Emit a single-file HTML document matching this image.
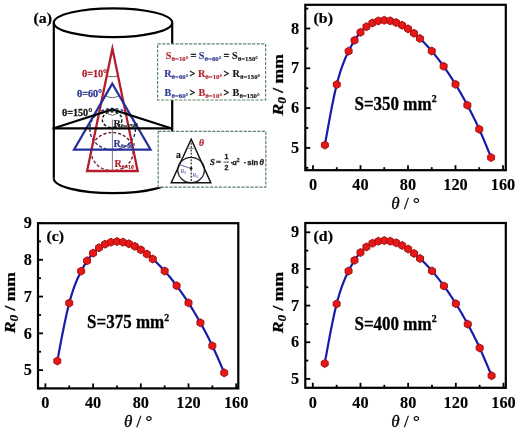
<!DOCTYPE html>
<html><head><meta charset="utf-8"><style>
html,body{margin:0;padding:0;background:#fff;}
svg{display:block;}
text{font-family:"Liberation Serif", "Times New Roman", serif;}
.tk,.pl,.sl,.yt{font-weight:bold;fill:#000;stroke:#000;stroke-width:0.25px;}
.tk{stroke-width:0.12px;}
.tk{font-size:16.3px;}
.pl{font-size:15.8px;}
.sl{font-size:17px;}
.yt{font-size:15.3px;}
.xt{font-size:17px;fill:#000;stroke:#000;stroke-width:0.3px;}
.al{font-size:10.1px;font-weight:bold;stroke-width:0.3px;}
.rl{font-size:10px;font-weight:bold;stroke-width:0.2px;}
.rs{font-size:5.8px;}
.bx{font-size:10.2px;font-weight:bold;stroke-width:0.15px;}
.fa{font-size:9.8px;font-weight:bold;stroke-width:0.2px;}
.ft{font-size:9.6px;font-weight:bold;font-style:italic;stroke-width:0.2px;}
.fr{font-size:6px;font-style:italic;fill:#4a5a9a;}
.fm{font-size:8.6px;font-weight:bold;stroke-width:0.3px;}
</style></head><body>
<svg width="520" height="433" viewBox="0 0 520 433">
<rect width="520" height="433" fill="#fff"/>
<ellipse cx="113" cy="22.7" rx="59.2" ry="14.4" fill="none" stroke="#000" stroke-width="2.2"/>
<line x1="53.8" y1="22.7" x2="53.8" y2="178.5" stroke="#000" stroke-width="2.2"/>
<line x1="172.2" y1="22.7" x2="172.2" y2="178.5" stroke="#000" stroke-width="2.2"/>
<path d="M53.8,178.5 A59.2,14.6 0 0 0 172.2,178.5" fill="none" stroke="#000" stroke-width="2.2"/>
<ellipse cx="112.6" cy="129.1" rx="22.8" ry="20.7" fill="none" stroke="#1e2a70" stroke-width="1.4" stroke-dasharray="3,2"/>
<ellipse cx="112.2" cy="151.6" rx="21" ry="19.1" fill="none" stroke="#6a1e26" stroke-width="1.4" stroke-dasharray="3,2"/>
<ellipse cx="112.1" cy="119.7" rx="9.8" ry="7.9" fill="none" stroke="#111" stroke-width="1.4" stroke-dasharray="3,2"/>
<line x1="112.4" y1="119.5" x2="112.4" y2="171" stroke="#6a6a90" stroke-width="0.9"/>
<path d="M118.26,76.18 A28.2,28.2 0 0 1 106.54,76.18" fill="none" stroke="#555" stroke-width="0.9"/>
<path d="M119.25,95.64 A13.9,13.9 0 0 1 105.35,95.64" fill="none" stroke="#555" stroke-width="0.9"/>
<path d="M118.04,111.35 A6,6 0 0 1 106.76,111.35" fill="none" stroke="#555" stroke-width="0.9"/>
<polygon points="112.4,48.6 87.1,171 137.7,171" fill="none" stroke="#b81c2c" stroke-width="2.3" stroke-miterlimit="12"/>
<polygon points="112.3,83.6 74.0,149.7 150.6,149.7" fill="none" stroke="#26309a" stroke-width="2.2" stroke-miterlimit="12"/>
<polyline points="53.8,128.2 112.3,109.4 171,128.2" fill="none" stroke="#000" stroke-width="2.2"/>
<line x1="52.5" y1="128.3" x2="172.2" y2="128.3" stroke="#000" stroke-width="2.2"/>
<text x="82" y="76.5" class="al" fill="#b02530" stroke="#b02530">θ=10°</text>
<text x="77" y="96.5" class="al" fill="#2c3990" stroke="#2c3990">θ=60°</text>
<text x="62" y="115.6" class="al" fill="#151515" stroke="#151515">θ=150°</text>
<text x="113.6" y="126.5" class="rl" fill="#222" stroke="#222">R<tspan class="rs" dy="1.5">θ=150°</tspan></text>
<text x="113.6" y="146.5" class="rl" fill="#2c3990" stroke="#2c3990">R<tspan class="rs" dy="1.5">θ=60°</tspan></text>
<text x="114.5" y="167" class="rl" fill="#b02530" stroke="#b02530">R<tspan class="rs" dy="1.5">θ=10</tspan></text>
<rect x="157.6" y="43.9" width="108" height="56.1" fill="#fff" stroke="#5a8668" stroke-width="1.2" stroke-dasharray="3.2,1.3"/>
<text class="bx"><tspan x="165.8" y="59.4" fill="#b02530" stroke="#b02530">S</tspan><tspan fill="#b02530" stroke="#b02530" font-size="6.8" dy="1.9">θ=10°</tspan><tspan x="190.4" y="59.4" fill="#111" stroke="#111" stroke-width="0.35">=</tspan><tspan x="198.8" y="59.4" fill="#2c3990" stroke="#2c3990">S</tspan><tspan fill="#2c3990" stroke="#2c3990" font-size="6.8" dy="1.9">θ=60°</tspan><tspan x="223.5" y="59.4" fill="#111" stroke="#111" stroke-width="0.35">=</tspan><tspan x="232" y="59.4" fill="#151515" stroke="#151515">S</tspan><tspan fill="#151515" stroke="#151515" font-size="6.8" dy="1.9">θ=150°</tspan></text>
<text class="bx"><tspan x="164.2" y="77.2" fill="#2c3990" stroke="#2c3990">R</tspan><tspan fill="#2c3990" stroke="#2c3990" font-size="6.8" dy="1.9">θ=60°</tspan><tspan x="189.4" y="77.2" fill="#111" stroke="#111" stroke-width="0.35">&gt;</tspan><tspan x="197.9" y="77.2" fill="#b02530" stroke="#b02530">R</tspan><tspan fill="#b02530" stroke="#b02530" font-size="6.8" dy="1.9">θ=10°</tspan><tspan x="223.5" y="77.2" fill="#111" stroke="#111" stroke-width="0.35">&gt;</tspan><tspan x="232.6" y="77.2" fill="#151515" stroke="#151515">R</tspan><tspan fill="#151515" stroke="#151515" font-size="6.8" dy="1.9">θ=150°</tspan></text>
<text class="bx"><tspan x="164.6" y="96.4" fill="#2c3990" stroke="#2c3990">B</tspan><tspan fill="#2c3990" stroke="#2c3990" font-size="6.8" dy="1.9">θ=60°</tspan><tspan x="189.4" y="96.4" fill="#111" stroke="#111" stroke-width="0.35">&gt;</tspan><tspan x="198.4" y="96.4" fill="#b02530" stroke="#b02530">B</tspan><tspan fill="#b02530" stroke="#b02530" font-size="6.8" dy="1.9">θ=10°</tspan><tspan x="223.5" y="96.4" fill="#111" stroke="#111" stroke-width="0.35">&gt;</tspan><tspan x="232.6" y="96.4" fill="#151515" stroke="#151515">B</tspan><tspan fill="#151515" stroke="#151515" font-size="6.8" dy="1.9">θ=150°</tspan></text>
<rect x="158.2" y="131.4" width="107.6" height="55.7" fill="#fff" stroke="#5a8668" stroke-width="1.2" stroke-dasharray="3.2,1.3"/>
<ellipse cx="191.1" cy="170" rx="13.3" ry="12.7" fill="none" stroke="#1a1a2a" stroke-width="1.2"/>
<polygon points="191.2,139.2 171.2,182.7 210.8,182.7" fill="none" stroke="#111" stroke-width="1.5"/>
<line x1="191.2" y1="139.5" x2="191.2" y2="182.7" stroke="#222" stroke-width="1.1" stroke-dasharray="2,1.3"/>
<line x1="191.2" y1="168.5" x2="179" y2="164.5" stroke="#4a5a9a" stroke-width="0.9"/>
<circle cx="191.2" cy="168.5" r="1.3" fill="#111"/>
<path d="M194.76,148.01 A9.5,9.5 0 0 1 187.64,148.01" fill="none" stroke="#777" stroke-width="0.9"/>
<text x="175.9" y="157.6" class="fa" fill="#111" stroke="#111">a</text>
<text x="199" y="146" class="ft" fill="#b02530" stroke="#b02530">θ</text>
<text x="180.5" y="172.5" class="fr">R<tspan font-size="4" dy="1">0</tspan></text>
<text x="192.6" y="177.3" class="fr">R<tspan font-size="4" dy="1">0</tspan></text>
<text class="fm" fill="#222" stroke="#222"><tspan x="210" y="165" font-style="italic">S</tspan><tspan x="216.1" y="165" font-size="8.8">=</tspan><tspan x="224.6" y="159.3" font-size="7" font-family="Liberation Sans, sans-serif">1</tspan><tspan x="224.6" y="170" font-size="7" font-family="Liberation Sans, sans-serif">2</tspan><tspan x="230.3" y="165">·</tspan><tspan x="232.4" y="165" font-style="italic">a</tspan><tspan font-size="5.5" dy="-3.4">2</tspan><tspan x="243.4" y="165">·</tspan><tspan x="247.2" y="165" font-family="Liberation Sans, sans-serif" font-size="7.7">sin</tspan><tspan x="259.4" y="165" font-style="italic">θ</tspan></text>
<line x1="223.6" y1="162.1" x2="229" y2="162.1" stroke="#222" stroke-width="0.8"/>
<text x="33.6" y="22.6" transform="matrix(1 0 0 0.94 0 1.356)" class="pl">(a)</text>
<polyline points="324.88,145.09 325.47,141.74 326.06,138.40 326.66,135.06 327.25,131.75 327.84,128.45 328.44,125.17 329.03,121.92 329.62,118.71 330.22,115.54 330.81,112.41 331.41,109.32 332.00,106.29 332.59,103.32 333.19,100.41 333.78,97.57 334.38,94.80 334.97,92.11 335.56,89.50 336.16,86.98 336.75,84.54 337.34,82.21 337.94,79.96 338.53,77.81 339.12,75.74 339.72,73.75 340.31,71.84 340.91,70.00 341.50,68.24 342.09,66.54 342.69,64.90 343.28,63.32 343.88,61.80 344.47,60.33 345.06,58.90 345.66,57.52 346.25,56.18 346.84,54.88 347.44,53.61 348.03,52.37 348.62,51.15 349.22,49.96 349.81,48.78 350.41,47.64 351.00,46.51 351.59,45.41 352.19,44.34 352.78,43.30 353.38,42.28 353.97,41.29 354.56,40.34 355.16,39.41 355.75,38.52 356.34,37.66 356.94,36.82 357.53,36.01 358.12,35.23 358.72,34.48 359.31,33.75 359.91,33.04 360.50,32.36 361.09,31.70 361.69,31.06 362.28,30.44 362.88,29.85 363.47,29.27 364.06,28.72 364.66,28.18 365.25,27.67 365.84,27.17 366.44,26.70 367.03,26.24 367.62,25.81 368.22,25.39 368.81,24.99 369.41,24.61 370.00,24.25 370.59,23.91 371.19,23.58 371.78,23.27 372.38,22.98 372.97,22.70 373.56,22.44 374.16,22.19 374.75,21.96 375.34,21.75 375.94,21.55 376.53,21.37 377.12,21.20 377.72,21.04 378.31,20.90 378.91,20.78 379.50,20.67 380.09,20.57 380.69,20.48 381.28,20.41 381.88,20.36 382.47,20.31 383.06,20.28 383.66,20.26 384.25,20.25 384.84,20.26 385.44,20.28 386.03,20.31 386.62,20.35 387.22,20.41 387.81,20.47 388.41,20.55 389.00,20.64 389.59,20.74 390.19,20.85 390.78,20.97 391.38,21.11 391.97,21.25 392.56,21.41 393.16,21.57 393.75,21.75 394.34,21.94 394.94,22.13 395.53,22.34 396.12,22.56 396.72,22.78 397.31,23.02 397.91,23.26 398.50,23.52 399.09,23.78 399.69,24.06 400.28,24.34 400.88,24.64 401.47,24.94 402.06,25.25 402.66,25.57 403.25,25.90 403.84,26.24 404.44,26.59 405.03,26.94 405.62,27.31 406.22,27.68 406.81,28.06 407.41,28.45 408.00,28.85 408.59,29.26 409.19,29.67 409.78,30.09 410.38,30.52 410.97,30.96 411.56,31.41 412.16,31.87 412.75,32.33 413.34,32.80 413.94,33.28 414.53,33.76 415.12,34.26 415.72,34.76 416.31,35.27 416.91,35.79 417.50,36.31 418.09,36.84 418.69,37.38 419.28,37.93 419.88,38.48 420.47,39.04 421.06,39.61 421.66,40.19 422.25,40.77 422.84,41.36 423.44,41.95 424.03,42.56 424.62,43.17 425.22,43.79 425.81,44.41 426.41,45.05 427.00,45.68 427.59,46.33 428.19,46.98 428.78,47.64 429.38,48.31 429.97,48.98 430.56,49.67 431.16,50.35 431.75,51.05 432.34,51.75 432.94,52.46 433.53,53.17 434.12,53.89 434.72,54.62 435.31,55.35 435.91,56.10 436.50,56.84 437.09,57.60 437.69,58.36 438.28,59.13 438.88,59.90 439.47,60.68 440.06,61.47 440.66,62.27 441.25,63.07 441.84,63.88 442.44,64.69 443.03,65.51 443.62,66.34 444.22,67.17 444.81,68.02 445.41,68.86 446.00,69.72 446.59,70.58 447.19,71.45 447.78,72.32 448.38,73.20 448.97,74.09 449.56,74.99 450.16,75.89 450.75,76.80 451.34,77.71 451.94,78.64 452.53,79.57 453.12,80.51 453.72,81.45 454.31,82.40 454.91,83.36 455.50,84.33 456.09,85.30 456.69,86.28 457.28,87.27 457.88,88.27 458.47,89.27 459.06,90.28 459.66,91.30 460.25,92.32 460.84,93.35 461.44,94.39 462.03,95.44 462.62,96.49 463.22,97.55 463.81,98.62 464.41,99.69 465.00,100.77 465.59,101.86 466.19,102.95 466.78,104.06 467.38,105.17 467.97,106.28 468.56,107.41 469.16,108.54 469.75,109.68 470.34,110.83 470.94,111.98 471.53,113.15 472.12,114.32 472.72,115.51 473.31,116.70 473.91,117.91 474.50,119.12 475.09,120.35 475.69,121.59 476.28,122.84 476.88,124.10 477.47,125.38 478.06,126.66 478.66,127.96 479.25,129.28 479.84,130.61 480.44,131.95 481.03,133.30 481.62,134.66 482.22,136.04 482.81,137.42 483.41,138.82 484.00,140.22 484.59,141.64 485.19,143.06 485.78,144.49 486.38,145.92 486.97,147.36 487.56,148.80 488.16,150.25 488.75,151.70 489.34,153.15 489.94,154.61 490.53,156.07 491.12,157.53" fill="none" stroke="#1a1aa8" stroke-width="2.2" stroke-linejoin="round"/>
<polygon points="324.88,141.09 321.41,143.09 321.41,147.09 324.88,149.09 328.34,147.09 328.34,143.09" fill="#e81616" stroke="#a01212" stroke-width="1"/>
<polygon points="336.75,80.54 333.29,82.54 333.29,86.54 336.75,88.54 340.21,86.54 340.21,82.54" fill="#e81616" stroke="#a01212" stroke-width="1"/>
<polygon points="348.62,47.15 345.16,49.15 345.16,53.15 348.62,55.15 352.09,53.15 352.09,49.15" fill="#e81616" stroke="#a01212" stroke-width="1"/>
<polygon points="354.56,36.34 351.10,38.34 351.10,42.34 354.56,44.34 358.03,42.34 358.03,38.34" fill="#e81616" stroke="#a01212" stroke-width="1"/>
<polygon points="360.50,28.36 357.04,30.36 357.04,34.36 360.50,36.36 363.96,34.36 363.96,30.36" fill="#e81616" stroke="#a01212" stroke-width="1"/>
<polygon points="366.44,22.70 362.97,24.70 362.97,28.70 366.44,30.70 369.90,28.70 369.90,24.70" fill="#e81616" stroke="#a01212" stroke-width="1"/>
<polygon points="372.38,18.98 368.91,20.98 368.91,24.98 372.38,26.98 375.84,24.98 375.84,20.98" fill="#e81616" stroke="#a01212" stroke-width="1"/>
<polygon points="378.31,16.90 374.85,18.90 374.85,22.90 378.31,24.90 381.78,22.90 381.78,18.90" fill="#e81616" stroke="#a01212" stroke-width="1"/>
<polygon points="384.25,16.25 380.79,18.25 380.79,22.25 384.25,24.25 387.71,22.25 387.71,18.25" fill="#e81616" stroke="#a01212" stroke-width="1"/>
<polygon points="390.19,16.85 386.72,18.85 386.72,22.85 390.19,24.85 393.65,22.85 393.65,18.85" fill="#e81616" stroke="#a01212" stroke-width="1"/>
<polygon points="396.12,18.56 392.66,20.56 392.66,24.56 396.12,26.56 399.59,24.56 399.59,20.56" fill="#e81616" stroke="#a01212" stroke-width="1"/>
<polygon points="402.06,21.25 398.60,23.25 398.60,27.25 402.06,29.25 405.53,27.25 405.53,23.25" fill="#e81616" stroke="#a01212" stroke-width="1"/>
<polygon points="408.00,24.85 404.54,26.85 404.54,30.85 408.00,32.85 411.46,30.85 411.46,26.85" fill="#e81616" stroke="#a01212" stroke-width="1"/>
<polygon points="413.94,29.28 410.47,31.28 410.47,35.28 413.94,37.28 417.40,35.28 417.40,31.28" fill="#e81616" stroke="#a01212" stroke-width="1"/>
<polygon points="419.88,34.48 416.41,36.48 416.41,40.48 419.88,42.48 423.34,40.48 423.34,36.48" fill="#e81616" stroke="#a01212" stroke-width="1"/>
<polygon points="431.75,47.05 428.29,49.05 428.29,53.05 431.75,55.05 435.21,53.05 435.21,49.05" fill="#e81616" stroke="#a01212" stroke-width="1"/>
<polygon points="443.62,62.34 440.16,64.34 440.16,68.34 443.62,70.34 447.09,68.34 447.09,64.34" fill="#e81616" stroke="#a01212" stroke-width="1"/>
<polygon points="455.50,80.33 452.04,82.33 452.04,86.33 455.50,88.33 458.96,86.33 458.96,82.33" fill="#e81616" stroke="#a01212" stroke-width="1"/>
<polygon points="467.38,101.17 463.91,103.17 463.91,107.17 467.38,109.17 470.84,107.17 470.84,103.17" fill="#e81616" stroke="#a01212" stroke-width="1"/>
<polygon points="479.25,125.28 475.79,127.28 475.79,131.28 479.25,133.28 482.71,131.28 482.71,127.28" fill="#e81616" stroke="#a01212" stroke-width="1"/>
<polygon points="491.12,153.53 487.66,155.53 487.66,159.53 491.12,161.53 494.59,159.53 494.59,155.53" fill="#e81616" stroke="#a01212" stroke-width="1"/>
<rect x="305.3" y="4.8" width="200.5" height="165.39999999999998" fill="none" stroke="#000" stroke-width="2.2"/>
<line x1="313.00" y1="170.2" x2="313.00" y2="165.2" stroke="#000" stroke-width="1.8"/>
<text x="313.00" y="189.6" transform="matrix(1 0 0 1.02 0 -3.792)" text-anchor="middle" class="tk">0</text>
<line x1="336.75" y1="170.2" x2="336.75" y2="167.2" stroke="#000" stroke-width="1.8"/>
<line x1="360.50" y1="170.2" x2="360.50" y2="165.2" stroke="#000" stroke-width="1.8"/>
<text x="360.50" y="189.6" transform="matrix(1 0 0 1.02 0 -3.792)" text-anchor="middle" class="tk">40</text>
<line x1="384.25" y1="170.2" x2="384.25" y2="167.2" stroke="#000" stroke-width="1.8"/>
<line x1="408.00" y1="170.2" x2="408.00" y2="165.2" stroke="#000" stroke-width="1.8"/>
<text x="408.00" y="189.6" transform="matrix(1 0 0 1.02 0 -3.792)" text-anchor="middle" class="tk">80</text>
<line x1="431.75" y1="170.2" x2="431.75" y2="167.2" stroke="#000" stroke-width="1.8"/>
<line x1="455.50" y1="170.2" x2="455.50" y2="165.2" stroke="#000" stroke-width="1.8"/>
<text x="455.50" y="189.6" transform="matrix(1 0 0 1.02 0 -3.792)" text-anchor="middle" class="tk">120</text>
<line x1="479.25" y1="170.2" x2="479.25" y2="167.2" stroke="#000" stroke-width="1.8"/>
<line x1="503.00" y1="170.2" x2="503.00" y2="165.2" stroke="#000" stroke-width="1.8"/>
<text x="503.00" y="189.6" transform="matrix(1 0 0 1.02 0 -3.792)" text-anchor="middle" class="tk">160</text>
<line x1="305.3" y1="167.80" x2="308.3" y2="167.80" stroke="#000" stroke-width="1.8"/>
<line x1="305.3" y1="147.90" x2="310.3" y2="147.90" stroke="#000" stroke-width="1.8"/>
<text x="299.1" y="153.10" transform="matrix(1 0 0 1.02 0 -3.062)" text-anchor="end" class="tk">5</text>
<line x1="305.3" y1="128.00" x2="308.3" y2="128.00" stroke="#000" stroke-width="1.8"/>
<line x1="305.3" y1="108.10" x2="310.3" y2="108.10" stroke="#000" stroke-width="1.8"/>
<text x="299.1" y="113.30" transform="matrix(1 0 0 1.02 0 -2.266)" text-anchor="end" class="tk">6</text>
<line x1="305.3" y1="88.20" x2="308.3" y2="88.20" stroke="#000" stroke-width="1.8"/>
<line x1="305.3" y1="68.30" x2="310.3" y2="68.30" stroke="#000" stroke-width="1.8"/>
<text x="299.1" y="73.50" transform="matrix(1 0 0 1.02 0 -1.470)" text-anchor="end" class="tk">7</text>
<line x1="305.3" y1="48.40" x2="308.3" y2="48.40" stroke="#000" stroke-width="1.8"/>
<line x1="305.3" y1="28.50" x2="310.3" y2="28.50" stroke="#000" stroke-width="1.8"/>
<text x="299.1" y="33.70" transform="matrix(1 0 0 1.02 0 -0.674)" text-anchor="end" class="tk">8</text>
<line x1="305.3" y1="8.60" x2="308.3" y2="8.60" stroke="#000" stroke-width="1.8"/>
<text x="313.6" y="22.8" transform="matrix(1 0 0 0.94 0 1.368)" class="pl">(b)</text>
<text x="354.5" y="110" transform="matrix(1 0 0 1.08 0 -8.800)" class="sl">S=350 mm<tspan dy="-7" font-size="9.8">2</tspan></text>
<text x="405.55" y="208.5" text-anchor="middle" class="xt"><tspan font-style="italic">θ</tspan> / °</text>
<text transform="matrix(1 0 0 1.15 0 -12.720) translate(283.3,84.8) rotate(-90)" text-anchor="middle" class="yt"><tspan font-style="italic">R<tspan font-size="11.5" dy="3">0</tspan></tspan><tspan dy="-3"> / mm</tspan></text>
<polyline points="57.33,360.98 57.92,357.77 58.52,354.58 59.11,351.39 59.71,348.21 60.31,345.06 60.90,341.92 61.50,338.82 62.09,335.74 62.69,332.71 63.29,329.71 63.88,326.76 64.48,323.87 65.08,321.02 65.67,318.24 66.27,315.52 66.87,312.87 67.46,310.30 68.06,307.80 68.65,305.39 69.25,303.06 69.85,300.83 70.44,298.68 71.04,296.62 71.64,294.64 72.23,292.74 72.83,290.91 73.42,289.15 74.02,287.46 74.62,285.84 75.21,284.27 75.81,282.76 76.41,281.31 77.00,279.90 77.60,278.54 78.19,277.22 78.79,275.93 79.39,274.69 79.98,273.47 80.58,272.28 81.18,271.12 81.77,269.98 82.37,268.86 82.96,267.76 83.56,266.68 84.16,265.63 84.75,264.60 85.35,263.61 85.94,262.63 86.54,261.69 87.14,260.78 87.73,259.89 88.33,259.04 88.93,258.21 89.52,257.41 90.12,256.64 90.72,255.89 91.31,255.17 91.91,254.47 92.50,253.80 93.10,253.14 93.70,252.51 94.29,251.90 94.89,251.31 95.49,250.74 96.08,250.19 96.68,249.66 97.27,249.15 97.87,248.66 98.47,248.18 99.06,247.73 99.66,247.30 100.25,246.88 100.85,246.48 101.45,246.10 102.04,245.74 102.64,245.39 103.24,245.06 103.83,244.75 104.43,244.45 105.03,244.17 105.62,243.91 106.22,243.66 106.81,243.42 107.41,243.20 108.01,243.00 108.60,242.81 109.20,242.63 109.80,242.47 110.39,242.32 110.99,242.19 111.58,242.07 112.18,241.96 112.78,241.87 113.37,241.79 113.97,241.72 114.56,241.66 115.16,241.62 115.76,241.59 116.35,241.57 116.95,241.57 117.55,241.57 118.14,241.59 118.74,241.62 119.34,241.66 119.93,241.71 120.53,241.77 121.12,241.85 121.72,241.93 122.32,242.03 122.91,242.14 123.51,242.25 124.11,242.38 124.70,242.52 125.30,242.67 125.89,242.83 126.49,242.99 127.09,243.17 127.68,243.36 128.28,243.56 128.88,243.77 129.47,243.98 130.07,244.21 130.66,244.44 131.26,244.69 131.86,244.94 132.45,245.21 133.05,245.48 133.65,245.76 134.24,246.05 134.84,246.34 135.43,246.65 136.03,246.97 136.63,247.29 137.22,247.62 137.82,247.96 138.42,248.31 139.01,248.67 139.61,249.03 140.20,249.41 140.80,249.79 141.40,250.18 141.99,250.57 142.59,250.98 143.19,251.39 143.78,251.81 144.38,252.24 144.97,252.67 145.57,253.12 146.17,253.57 146.76,254.02 147.36,254.49 147.96,254.96 148.55,255.44 149.15,255.93 149.74,256.42 150.34,256.92 150.94,257.43 151.53,257.95 152.13,258.47 152.73,259.00 153.32,259.54 153.92,260.08 154.51,260.63 155.11,261.19 155.71,261.75 156.30,262.32 156.90,262.90 157.50,263.49 158.09,264.08 158.69,264.67 159.28,265.28 159.88,265.89 160.48,266.51 161.07,267.13 161.67,267.76 162.27,268.40 162.86,269.05 163.46,269.70 164.05,270.36 164.65,271.02 165.25,271.69 165.84,272.37 166.44,273.05 167.03,273.74 167.63,274.44 168.23,275.14 168.82,275.85 169.42,276.56 170.02,277.29 170.61,278.01 171.21,278.75 171.81,279.49 172.40,280.24 173.00,280.99 173.59,281.75 174.19,282.52 174.79,283.29 175.38,284.07 175.98,284.86 176.58,285.65 177.17,286.45 177.77,287.25 178.36,288.06 178.96,288.88 179.56,289.70 180.15,290.53 180.75,291.37 181.35,292.21 181.94,293.06 182.54,293.92 183.13,294.78 183.73,295.65 184.33,296.53 184.92,297.41 185.52,298.30 186.12,299.20 186.71,300.10 187.31,301.01 187.90,301.93 188.50,302.85 189.10,303.79 189.69,304.72 190.29,305.67 190.89,306.62 191.48,307.58 192.08,308.55 192.67,309.52 193.27,310.50 193.87,311.49 194.46,312.48 195.06,313.48 195.66,314.49 196.25,315.50 196.85,316.52 197.44,317.55 198.04,318.58 198.64,319.63 199.23,320.67 199.83,321.73 200.43,322.79 201.02,323.86 201.62,324.93 202.21,326.01 202.81,327.10 203.41,328.20 204.00,329.31 204.60,330.42 205.20,331.55 205.79,332.68 206.39,333.82 206.98,334.98 207.58,336.14 208.18,337.31 208.77,338.50 209.37,339.69 209.97,340.90 210.56,342.12 211.16,343.35 211.75,344.60 212.35,345.85 212.95,347.12 213.54,348.40 214.14,349.70 214.74,351.00 215.33,352.32 215.93,353.65 216.52,354.98 217.12,356.32 217.72,357.68 218.31,359.03 218.91,360.40 219.51,361.77 220.10,363.15 220.70,364.53 221.29,365.91 221.89,367.30 222.49,368.69 223.08,370.08 223.68,371.48 224.28,372.87" fill="none" stroke="#1a1aa8" stroke-width="2.2" stroke-linejoin="round"/>
<polygon points="57.33,356.98 53.86,358.98 53.86,362.98 57.33,364.98 60.79,362.98 60.79,358.98" fill="#e81616" stroke="#a01212" stroke-width="1"/>
<polygon points="69.25,299.06 65.79,301.06 65.79,305.06 69.25,307.06 72.71,305.06 72.71,301.06" fill="#e81616" stroke="#a01212" stroke-width="1"/>
<polygon points="81.18,267.12 77.71,269.12 77.71,273.12 81.18,275.12 84.64,273.12 84.64,269.12" fill="#e81616" stroke="#a01212" stroke-width="1"/>
<polygon points="87.14,256.78 83.67,258.78 83.67,262.78 87.14,264.78 90.60,262.78 90.60,258.78" fill="#e81616" stroke="#a01212" stroke-width="1"/>
<polygon points="93.10,249.14 89.64,251.14 89.64,255.14 93.10,257.14 96.56,255.14 96.56,251.14" fill="#e81616" stroke="#a01212" stroke-width="1"/>
<polygon points="99.06,243.73 95.60,245.73 95.60,249.73 99.06,251.73 102.53,249.73 102.53,245.73" fill="#e81616" stroke="#a01212" stroke-width="1"/>
<polygon points="105.03,240.17 101.56,242.17 101.56,246.17 105.03,248.17 108.49,246.17 108.49,242.17" fill="#e81616" stroke="#a01212" stroke-width="1"/>
<polygon points="110.99,238.19 107.52,240.19 107.52,244.19 110.99,246.19 114.45,244.19 114.45,240.19" fill="#e81616" stroke="#a01212" stroke-width="1"/>
<polygon points="116.95,237.57 113.49,239.57 113.49,243.57 116.95,245.57 120.41,243.57 120.41,239.57" fill="#e81616" stroke="#a01212" stroke-width="1"/>
<polygon points="122.91,238.14 119.45,240.14 119.45,244.14 122.91,246.14 126.38,244.14 126.38,240.14" fill="#e81616" stroke="#a01212" stroke-width="1"/>
<polygon points="128.88,239.77 125.41,241.77 125.41,245.77 128.88,247.77 132.34,245.77 132.34,241.77" fill="#e81616" stroke="#a01212" stroke-width="1"/>
<polygon points="134.84,242.34 131.37,244.34 131.37,248.34 134.84,250.34 138.30,248.34 138.30,244.34" fill="#e81616" stroke="#a01212" stroke-width="1"/>
<polygon points="140.80,245.79 137.34,247.79 137.34,251.79 140.80,253.79 144.26,251.79 144.26,247.79" fill="#e81616" stroke="#a01212" stroke-width="1"/>
<polygon points="146.76,250.02 143.30,252.02 143.30,256.02 146.76,258.02 150.23,256.02 150.23,252.02" fill="#e81616" stroke="#a01212" stroke-width="1"/>
<polygon points="152.73,255.00 149.26,257.00 149.26,261.00 152.73,263.00 156.19,261.00 156.19,257.00" fill="#e81616" stroke="#a01212" stroke-width="1"/>
<polygon points="164.65,267.02 161.19,269.02 161.19,273.02 164.65,275.02 168.11,273.02 168.11,269.02" fill="#e81616" stroke="#a01212" stroke-width="1"/>
<polygon points="176.58,281.65 173.11,283.65 173.11,287.65 176.58,289.65 180.04,287.65 180.04,283.65" fill="#e81616" stroke="#a01212" stroke-width="1"/>
<polygon points="188.50,298.85 185.04,300.85 185.04,304.85 188.50,306.85 191.96,304.85 191.96,300.85" fill="#e81616" stroke="#a01212" stroke-width="1"/>
<polygon points="200.43,318.79 196.96,320.79 196.96,324.79 200.43,326.79 203.89,324.79 203.89,320.79" fill="#e81616" stroke="#a01212" stroke-width="1"/>
<polygon points="212.35,341.85 208.89,343.85 208.89,347.85 212.35,349.85 215.81,347.85 215.81,343.85" fill="#e81616" stroke="#a01212" stroke-width="1"/>
<polygon points="224.28,368.87 220.81,370.87 220.81,374.87 224.28,376.87 227.74,374.87 227.74,370.87" fill="#e81616" stroke="#a01212" stroke-width="1"/>
<rect x="38" y="223.2" width="200.3" height="165.2" fill="none" stroke="#000" stroke-width="2.2"/>
<line x1="45.40" y1="388.4" x2="45.40" y2="383.4" stroke="#000" stroke-width="1.8"/>
<text x="45.40" y="408" transform="matrix(1 0 0 1.02 0 -8.160)" text-anchor="middle" class="tk">0</text>
<line x1="69.25" y1="388.4" x2="69.25" y2="385.4" stroke="#000" stroke-width="1.8"/>
<line x1="93.10" y1="388.4" x2="93.10" y2="383.4" stroke="#000" stroke-width="1.8"/>
<text x="93.10" y="408" transform="matrix(1 0 0 1.02 0 -8.160)" text-anchor="middle" class="tk">40</text>
<line x1="116.95" y1="388.4" x2="116.95" y2="385.4" stroke="#000" stroke-width="1.8"/>
<line x1="140.80" y1="388.4" x2="140.80" y2="383.4" stroke="#000" stroke-width="1.8"/>
<text x="140.80" y="408" transform="matrix(1 0 0 1.02 0 -8.160)" text-anchor="middle" class="tk">80</text>
<line x1="164.65" y1="388.4" x2="164.65" y2="385.4" stroke="#000" stroke-width="1.8"/>
<line x1="188.50" y1="388.4" x2="188.50" y2="383.4" stroke="#000" stroke-width="1.8"/>
<text x="188.50" y="408" transform="matrix(1 0 0 1.02 0 -8.160)" text-anchor="middle" class="tk">120</text>
<line x1="212.35" y1="388.4" x2="212.35" y2="385.4" stroke="#000" stroke-width="1.8"/>
<line x1="236.20" y1="388.4" x2="236.20" y2="383.4" stroke="#000" stroke-width="1.8"/>
<text x="236.20" y="408" transform="matrix(1 0 0 1.02 0 -8.160)" text-anchor="middle" class="tk">160</text>
<line x1="38" y1="388.51" x2="41" y2="388.51" stroke="#000" stroke-width="1.8"/>
<line x1="38" y1="370.12" x2="43" y2="370.12" stroke="#000" stroke-width="1.8"/>
<text x="31.8" y="375.32" transform="matrix(1 0 0 1.02 0 -7.506)" text-anchor="end" class="tk">5</text>
<line x1="38" y1="351.73" x2="41" y2="351.73" stroke="#000" stroke-width="1.8"/>
<line x1="38" y1="333.34" x2="43" y2="333.34" stroke="#000" stroke-width="1.8"/>
<text x="31.8" y="338.54" transform="matrix(1 0 0 1.02 0 -6.771)" text-anchor="end" class="tk">6</text>
<line x1="38" y1="314.95" x2="41" y2="314.95" stroke="#000" stroke-width="1.8"/>
<line x1="38" y1="296.56" x2="43" y2="296.56" stroke="#000" stroke-width="1.8"/>
<text x="31.8" y="301.76" transform="matrix(1 0 0 1.02 0 -6.035)" text-anchor="end" class="tk">7</text>
<line x1="38" y1="278.17" x2="41" y2="278.17" stroke="#000" stroke-width="1.8"/>
<line x1="38" y1="259.78" x2="43" y2="259.78" stroke="#000" stroke-width="1.8"/>
<text x="31.8" y="264.98" transform="matrix(1 0 0 1.02 0 -5.300)" text-anchor="end" class="tk">8</text>
<line x1="38" y1="241.39" x2="41" y2="241.39" stroke="#000" stroke-width="1.8"/>
<line x1="38" y1="223.00" x2="43" y2="223.00" stroke="#000" stroke-width="1.8"/>
<text x="31.8" y="228.20" transform="matrix(1 0 0 1.02 0 -4.564)" text-anchor="end" class="tk">9</text>
<text x="46.6" y="240.9" transform="matrix(1 0 0 0.94 0 14.454)" class="pl">(c)</text>
<text x="87" y="328.3" transform="matrix(1 0 0 1.08 0 -26.264)" class="sl">S=375 mm<tspan dy="-7" font-size="9.8">2</tspan></text>
<text x="138.15" y="427" text-anchor="middle" class="xt"><tspan font-style="italic">θ</tspan> / °</text>
<text transform="matrix(1 0 0 1.15 0 -45.405) translate(14.6,302.7) rotate(-90)" text-anchor="middle" class="yt"><tspan font-style="italic">R<tspan font-size="11.5" dy="3">0</tspan></tspan><tspan dy="-3"> / mm</tspan></text>
<polyline points="324.72,363.48 325.31,360.18 325.91,356.89 326.51,353.61 327.10,350.34 327.70,347.10 328.29,343.87 328.89,340.68 329.49,337.51 330.08,334.39 330.68,331.31 331.27,328.27 331.87,325.29 332.47,322.36 333.06,319.50 333.66,316.70 334.25,313.98 334.85,311.33 335.45,308.76 336.04,306.27 336.64,303.88 337.23,301.58 337.83,299.37 338.43,297.25 339.02,295.21 339.62,293.25 340.21,291.37 340.81,289.56 341.41,287.83 342.00,286.15 342.60,284.54 343.19,282.99 343.79,281.49 344.38,280.04 344.98,278.64 345.58,277.28 346.17,275.96 346.77,274.68 347.36,273.42 347.96,272.20 348.56,271.00 349.15,269.83 349.75,268.67 350.34,267.54 350.94,266.44 351.54,265.36 352.13,264.30 352.73,263.27 353.32,262.27 353.92,261.30 354.52,260.36 355.11,259.45 355.71,258.57 356.30,257.72 356.90,256.90 357.50,256.10 358.09,255.33 358.69,254.59 359.28,253.87 359.88,253.18 360.48,252.51 361.07,251.85 361.67,251.23 362.26,250.62 362.86,250.03 363.45,249.46 364.05,248.92 364.65,248.39 365.24,247.89 365.84,247.40 366.43,246.93 367.03,246.49 367.63,246.06 368.22,245.65 368.82,245.26 369.41,244.88 370.01,244.53 370.61,244.19 371.20,243.86 371.80,243.56 372.39,243.27 372.99,243.00 373.59,242.74 374.18,242.50 374.78,242.27 375.37,242.06 375.97,241.87 376.57,241.68 377.16,241.52 377.76,241.37 378.35,241.23 378.95,241.10 379.55,240.99 380.14,240.90 380.74,240.82 381.33,240.75 381.93,240.69 382.52,240.64 383.12,240.61 383.72,240.60 384.31,240.59 384.91,240.60 385.50,240.61 386.10,240.64 386.70,240.69 387.29,240.74 387.89,240.80 388.48,240.88 389.08,240.97 389.68,241.07 390.27,241.18 390.87,241.30 391.46,241.43 392.06,241.57 392.66,241.72 393.25,241.89 393.85,242.06 394.44,242.24 395.04,242.44 395.64,242.64 396.23,242.85 396.83,243.08 397.42,243.31 398.02,243.55 398.62,243.80 399.21,244.06 399.81,244.33 400.40,244.61 401.00,244.90 401.59,245.20 402.19,245.51 402.79,245.82 403.38,246.15 403.98,246.48 404.57,246.82 405.17,247.17 405.77,247.53 406.36,247.90 406.96,248.27 407.55,248.66 408.15,249.05 408.75,249.45 409.34,249.86 409.94,250.27 410.53,250.70 411.13,251.13 411.73,251.57 412.32,252.02 412.92,252.48 413.51,252.94 414.11,253.41 414.71,253.89 415.30,254.37 415.90,254.87 416.49,255.37 417.09,255.88 417.69,256.39 418.28,256.92 418.88,257.45 419.47,257.99 420.07,258.53 420.66,259.08 421.26,259.64 421.86,260.21 422.45,260.78 423.05,261.36 423.64,261.95 424.24,262.55 424.84,263.15 425.43,263.76 426.03,264.37 426.62,264.99 427.22,265.62 427.82,266.26 428.41,266.90 429.01,267.55 429.60,268.21 430.20,268.87 430.80,269.54 431.39,270.22 431.99,270.90 432.58,271.59 433.18,272.29 433.78,272.99 434.37,273.70 434.97,274.42 435.56,275.14 436.16,275.87 436.75,276.61 437.35,277.35 437.95,278.10 438.54,278.86 439.14,279.62 439.73,280.39 440.33,281.16 440.93,281.95 441.52,282.74 442.12,283.53 442.71,284.33 443.31,285.14 443.91,285.96 444.50,286.78 445.10,287.61 445.69,288.44 446.29,289.28 446.89,290.13 447.48,290.98 448.08,291.84 448.67,292.71 449.27,293.59 449.87,294.47 450.46,295.36 451.06,296.25 451.65,297.15 452.25,298.06 452.85,298.98 453.44,299.90 454.04,300.83 454.63,301.77 455.23,302.71 455.83,303.66 456.42,304.62 457.02,305.59 457.61,306.56 458.21,307.54 458.80,308.53 459.40,309.52 460.00,310.52 460.59,311.53 461.19,312.55 461.78,313.57 462.38,314.60 462.98,315.64 463.57,316.68 464.17,317.73 464.76,318.79 465.36,319.85 465.96,320.92 466.55,322.00 467.15,323.09 467.74,324.18 468.34,325.28 468.94,326.39 469.53,327.50 470.13,328.62 470.72,329.75 471.32,330.89 471.92,332.04 472.51,333.19 473.11,334.36 473.70,335.54 474.30,336.72 474.89,337.92 475.49,339.13 476.09,340.35 476.68,341.58 477.28,342.82 477.87,344.07 478.47,345.34 479.07,346.62 479.66,347.92 480.26,349.22 480.85,350.54 481.45,351.87 482.05,353.22 482.64,354.57 483.24,355.94 483.83,357.31 484.43,358.69 485.03,360.08 485.62,361.48 486.22,362.89 486.81,364.30 487.41,365.71 488.01,367.13 488.60,368.56 489.20,369.99 489.79,371.42 490.39,372.85 490.99,374.29 491.58,375.72" fill="none" stroke="#1a1aa8" stroke-width="2.2" stroke-linejoin="round"/>
<polygon points="324.72,359.48 321.25,361.48 321.25,365.48 324.72,367.48 328.18,365.48 328.18,361.48" fill="#e81616" stroke="#a01212" stroke-width="1"/>
<polygon points="336.64,299.88 333.17,301.88 333.17,305.88 336.64,307.88 340.10,305.88 340.10,301.88" fill="#e81616" stroke="#a01212" stroke-width="1"/>
<polygon points="348.56,267.00 345.09,269.00 345.09,273.00 348.56,275.00 352.02,273.00 352.02,269.00" fill="#e81616" stroke="#a01212" stroke-width="1"/>
<polygon points="354.52,256.36 351.05,258.36 351.05,262.36 354.52,264.36 357.98,262.36 357.98,258.36" fill="#e81616" stroke="#a01212" stroke-width="1"/>
<polygon points="360.48,248.51 357.01,250.51 357.01,254.51 360.48,256.51 363.94,254.51 363.94,250.51" fill="#e81616" stroke="#a01212" stroke-width="1"/>
<polygon points="366.43,242.93 362.97,244.93 362.97,248.93 366.43,250.93 369.90,248.93 369.90,244.93" fill="#e81616" stroke="#a01212" stroke-width="1"/>
<polygon points="372.39,239.27 368.93,241.27 368.93,245.27 372.39,247.27 375.86,245.27 375.86,241.27" fill="#e81616" stroke="#a01212" stroke-width="1"/>
<polygon points="378.35,237.23 374.89,239.23 374.89,243.23 378.35,245.23 381.82,243.23 381.82,239.23" fill="#e81616" stroke="#a01212" stroke-width="1"/>
<polygon points="384.31,236.59 380.85,238.59 380.85,242.59 384.31,244.59 387.78,242.59 387.78,238.59" fill="#e81616" stroke="#a01212" stroke-width="1"/>
<polygon points="390.27,237.18 386.81,239.18 386.81,243.18 390.27,245.18 393.74,243.18 393.74,239.18" fill="#e81616" stroke="#a01212" stroke-width="1"/>
<polygon points="396.23,238.85 392.77,240.85 392.77,244.85 396.23,246.85 399.70,244.85 399.70,240.85" fill="#e81616" stroke="#a01212" stroke-width="1"/>
<polygon points="402.19,241.51 398.73,243.51 398.73,247.51 402.19,249.51 405.65,247.51 405.65,243.51" fill="#e81616" stroke="#a01212" stroke-width="1"/>
<polygon points="408.15,245.05 404.69,247.05 404.69,251.05 408.15,253.05 411.61,251.05 411.61,247.05" fill="#e81616" stroke="#a01212" stroke-width="1"/>
<polygon points="414.11,249.41 410.65,251.41 410.65,255.41 414.11,257.41 417.57,255.41 417.57,251.41" fill="#e81616" stroke="#a01212" stroke-width="1"/>
<polygon points="420.07,254.53 416.60,256.53 416.60,260.53 420.07,262.53 423.53,260.53 423.53,256.53" fill="#e81616" stroke="#a01212" stroke-width="1"/>
<polygon points="431.99,266.90 428.52,268.90 428.52,272.90 431.99,274.90 435.45,272.90 435.45,268.90" fill="#e81616" stroke="#a01212" stroke-width="1"/>
<polygon points="443.91,281.96 440.44,283.96 440.44,287.96 443.91,289.96 447.37,287.96 447.37,283.96" fill="#e81616" stroke="#a01212" stroke-width="1"/>
<polygon points="455.83,299.66 452.36,301.66 452.36,305.66 455.83,307.66 459.29,305.66 459.29,301.66" fill="#e81616" stroke="#a01212" stroke-width="1"/>
<polygon points="467.74,320.18 464.28,322.18 464.28,326.18 467.74,328.18 471.21,326.18 471.21,322.18" fill="#e81616" stroke="#a01212" stroke-width="1"/>
<polygon points="479.66,343.92 476.20,345.92 476.20,349.92 479.66,351.92 483.13,349.92 483.13,345.92" fill="#e81616" stroke="#a01212" stroke-width="1"/>
<polygon points="491.58,371.72 488.12,373.72 488.12,377.72 491.58,379.72 495.05,377.72 495.05,373.72" fill="#e81616" stroke="#a01212" stroke-width="1"/>
<rect x="305.3" y="223.0" width="200.5" height="164.8" fill="none" stroke="#000" stroke-width="2.2"/>
<line x1="312.80" y1="387.8" x2="312.80" y2="382.8" stroke="#000" stroke-width="1.8"/>
<text x="312.80" y="407.8" transform="matrix(1 0 0 1.02 0 -8.156)" text-anchor="middle" class="tk">0</text>
<line x1="336.64" y1="387.8" x2="336.64" y2="384.8" stroke="#000" stroke-width="1.8"/>
<line x1="360.48" y1="387.8" x2="360.48" y2="382.8" stroke="#000" stroke-width="1.8"/>
<text x="360.48" y="407.8" transform="matrix(1 0 0 1.02 0 -8.156)" text-anchor="middle" class="tk">40</text>
<line x1="384.31" y1="387.8" x2="384.31" y2="384.8" stroke="#000" stroke-width="1.8"/>
<line x1="408.15" y1="387.8" x2="408.15" y2="382.8" stroke="#000" stroke-width="1.8"/>
<text x="408.15" y="407.8" transform="matrix(1 0 0 1.02 0 -8.156)" text-anchor="middle" class="tk">80</text>
<line x1="431.99" y1="387.8" x2="431.99" y2="384.8" stroke="#000" stroke-width="1.8"/>
<line x1="455.83" y1="387.8" x2="455.83" y2="382.8" stroke="#000" stroke-width="1.8"/>
<text x="455.83" y="407.8" transform="matrix(1 0 0 1.02 0 -8.156)" text-anchor="middle" class="tk">120</text>
<line x1="479.66" y1="387.8" x2="479.66" y2="384.8" stroke="#000" stroke-width="1.8"/>
<line x1="503.50" y1="387.8" x2="503.50" y2="382.8" stroke="#000" stroke-width="1.8"/>
<text x="503.50" y="407.8" transform="matrix(1 0 0 1.02 0 -8.156)" text-anchor="middle" class="tk">160</text>
<line x1="305.3" y1="378.90" x2="310.3" y2="378.90" stroke="#000" stroke-width="1.8"/>
<text x="299.1" y="384.10" transform="matrix(1 0 0 1.02 0 -7.682)" text-anchor="end" class="tk">5</text>
<line x1="305.3" y1="360.58" x2="308.3" y2="360.58" stroke="#000" stroke-width="1.8"/>
<line x1="305.3" y1="342.25" x2="310.3" y2="342.25" stroke="#000" stroke-width="1.8"/>
<text x="299.1" y="347.45" transform="matrix(1 0 0 1.02 0 -6.949)" text-anchor="end" class="tk">6</text>
<line x1="305.3" y1="323.93" x2="308.3" y2="323.93" stroke="#000" stroke-width="1.8"/>
<line x1="305.3" y1="305.60" x2="310.3" y2="305.60" stroke="#000" stroke-width="1.8"/>
<text x="299.1" y="310.80" transform="matrix(1 0 0 1.02 0 -6.216)" text-anchor="end" class="tk">7</text>
<line x1="305.3" y1="287.27" x2="308.3" y2="287.27" stroke="#000" stroke-width="1.8"/>
<line x1="305.3" y1="268.95" x2="310.3" y2="268.95" stroke="#000" stroke-width="1.8"/>
<text x="299.1" y="274.15" transform="matrix(1 0 0 1.02 0 -5.483)" text-anchor="end" class="tk">8</text>
<line x1="305.3" y1="250.62" x2="308.3" y2="250.62" stroke="#000" stroke-width="1.8"/>
<line x1="305.3" y1="232.30" x2="310.3" y2="232.30" stroke="#000" stroke-width="1.8"/>
<text x="299.1" y="237.50" transform="matrix(1 0 0 1.02 0 -4.750)" text-anchor="end" class="tk">9</text>
<text x="313.6" y="240.9" transform="matrix(1 0 0 0.94 0 14.454)" class="pl">(d)</text>
<text x="354.5" y="330" transform="matrix(1 0 0 1.08 0 -26.400)" class="sl">S=400 mm<tspan dy="-7" font-size="9.8">2</tspan></text>
<text x="405.55" y="427" text-anchor="middle" class="xt"><tspan font-style="italic">θ</tspan> / °</text>
<text transform="matrix(1 0 0 1.15 0 -45.390) translate(282.6,302.6) rotate(-90)" text-anchor="middle" class="yt"><tspan font-style="italic">R<tspan font-size="11.5" dy="3">0</tspan></tspan><tspan dy="-3"> / mm</tspan></text>
</svg>
</body></html>
